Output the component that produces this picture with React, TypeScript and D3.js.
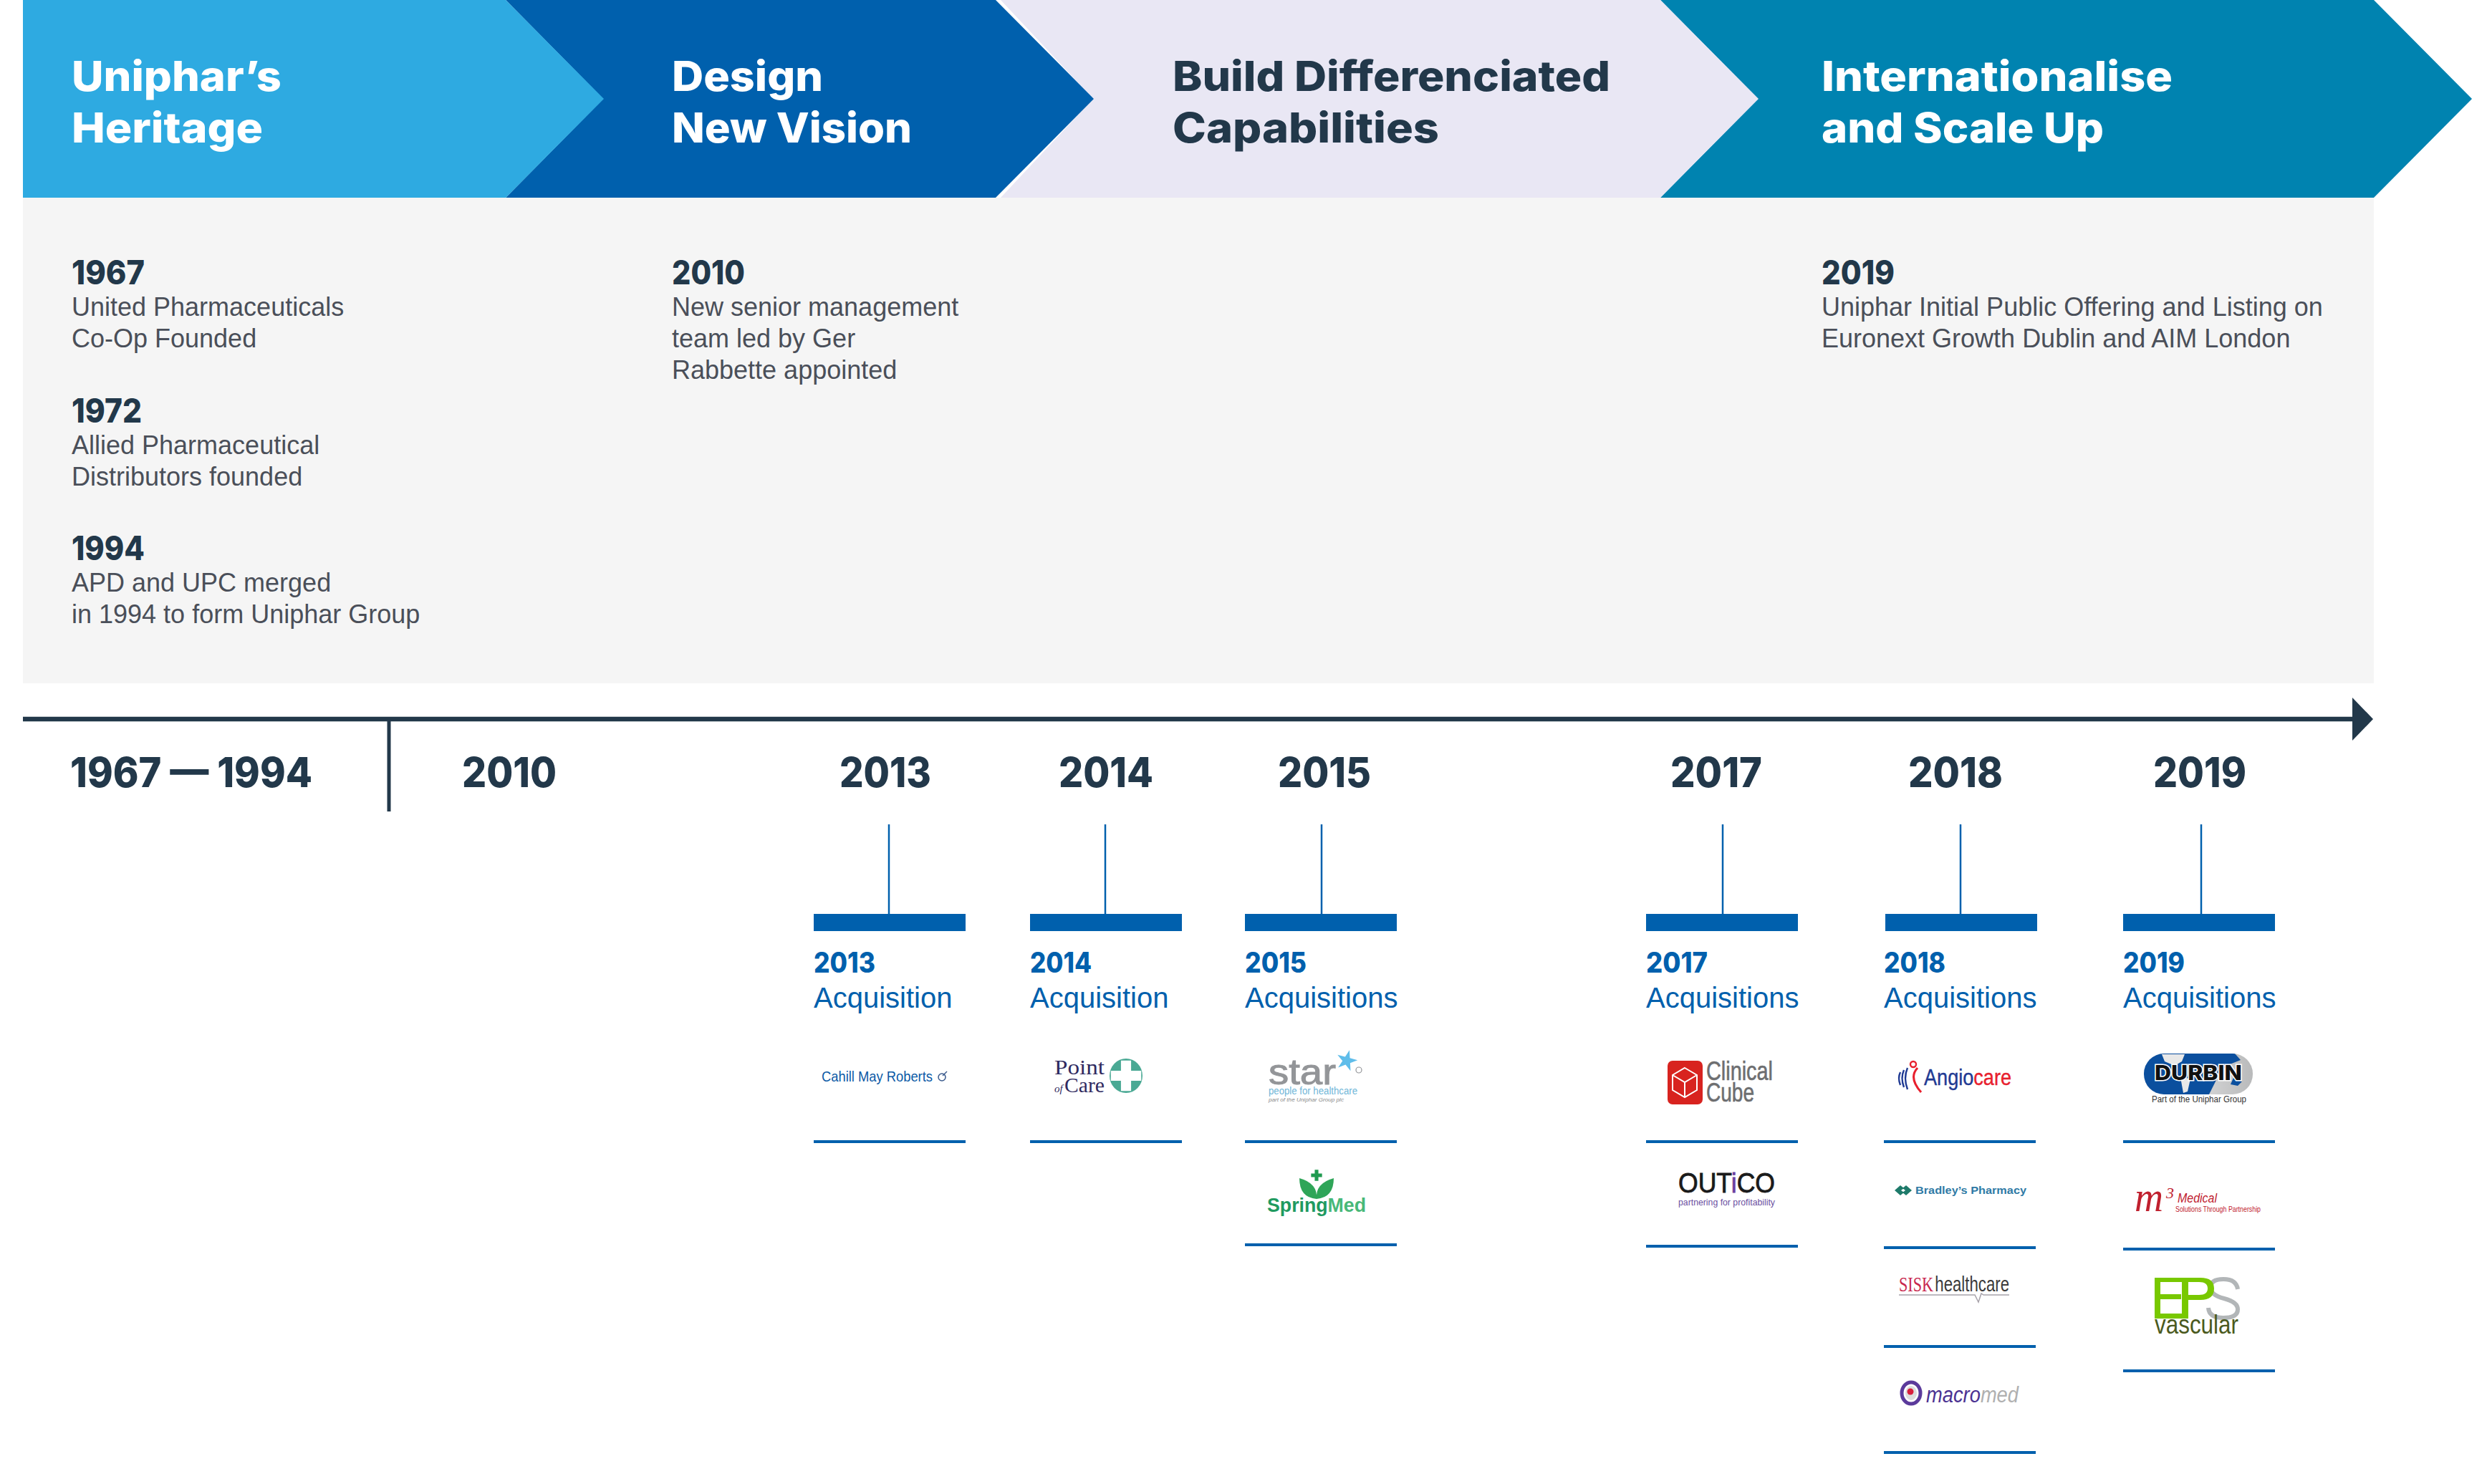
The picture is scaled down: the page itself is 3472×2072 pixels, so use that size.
import React from "react";
import * as d3 from "d3";

// chart content
const phaseTitles = [
  ["Uniphar’s", "Heritage"],
  ["Design", "New Vision"],
  ["Build Differenciated", "Capabilities"],
  ["Internationalise", "and Scale Up"],
];
const heritageYears = ["1967", "1972", "1994"];
const heritageNotes = [
  ["United Pharmaceuticals", "Co-Op Founded"],
  ["Allied Pharmaceutical", "Distributors founded"],
  ["APD and UPC merged", "in 1994 to form Uniphar Group"],
];
const visionYears = ["2010"];
const visionNotes = [["New senior management", "team led by Ger", "Rabbette appointed"]];
const scaleYears = ["2019"];
const scaleNotes = [["Uniphar Initial Public Offering and Listing on", "Euronext Growth Dublin and AIM London"]];
const timelineLabels = ["1967 — 1994", "2010", "2013", "2014", "2015", "2017", "2018", "2019"];
const acquisitionYears = ["2013", "2014", "2015", "2017", "2018", "2019"];
const acquisitionWords = ["Acquisition", "Acquisition", "Acquisitions", "Acquisitions", "Acquisitions", "Acquisitions"];
const acquisitionLogos = [
  ["cahill"],
  ["pointOfCare"],
  ["star", "springMed"],
  ["clinicalCube", "outico"],
  ["angiocare", "bradleys", "sisk", "macromed"],
  ["durbin", "m3", "eps"],
];

// layout
const W = 3472;
const H = 2072;
const DARK = "#22384a";
const BLUE = "#0060ad";
const BODY = "#4a4f59";
const HEAD = "Inter, Lato, sans-serif";
const SANS = "'Liberation Sans', Arial, sans-serif";
const SERIF = "'Liberation Serif', serif";

const phaseFill = d3.scaleOrdinal<number, string>().domain([0, 1, 2, 3]).range(["#2eaae1", "#0060ad", "#e9e7f4", "#0083b0"]);
const phaseInk = d3.scaleOrdinal<number, string>().domain([0, 1, 2, 3]).range(["#fff", "#fff", DARK, "#fff"]);
const phaseShoulder = d3.scaleOrdinal<number, number>().domain([0, 1, 2, 3]).range([706, 1390, 2318, 3314]);
const phaseTextX = d3.scaleOrdinal<number, number>().domain([0, 1, 2, 3]).range([100, 938, 1637, 2543]);
const phaseTextW = [[293, 267], [211, 335], [611, 372], [490, 394]];

const labelX = d3.scaleOrdinal<string, number>().domain(timelineLabels).range([98, 645, 1172, 1478, 1784, 2332, 2664, 3006]);
const labelW = d3.scaleOrdinal<string, number>().domain(timelineLabels).range([338, 132, 128, 132, 130, 128, 132, 130]);
const blockX = d3.scaleOrdinal<string, number>().domain(acquisitionYears).range([1136, 1438, 1738, 2298, 2632, 2964]);
const stemX = d3.scaleOrdinal<string, number>().domain(acquisitionYears).range([1241, 1543, 1845, 2405, 2737, 3073]);
const ruleX = d3.scaleOrdinal<string, number>().domain(acquisitionYears).range([1136, 1438, 1738, 2298, 2630, 2964]);
const ruleYs = [[1592], [1592], [1592, 1736], [1592, 1738], [1592, 1740, 1878, 2026], [1592, 1742, 1912]];

const poly = d3.line().curve(d3.curveLinearClosed);

const T = ({ x, y, s, c, w, f = SANS, wt = 400, it = false, a = "start", ...rest }: any) => (
  <text
    x={x}
    y={y}
    fontSize={s}
    fill={c}
    fontFamily={f}
    fontWeight={wt}
    fontStyle={it ? "italic" : "normal"}
    textAnchor={a}
    textLength={w}
    lengthAdjust={w ? "spacingAndGlyphs" : undefined}
    {...rest}
  >
    {rest.children}
  </text>
);

const star = d3.symbol().type(d3.symbolStar);
const cross = d3.symbol().type(d3.symbolCross);

// company logos, drawn from text and simple shapes
const logos: Record<string, () => React.ReactNode> = {
  cahill: () => (
    <g>
      <T x={1147} y={1510} s={21} c="#0b5aa6" w={155}>Cahill May Roberts</T>
      <circle cx={1315} cy={1504} r={5} fill="none" stroke="#3a5a8c" strokeWidth={1.5} />
      <line x1={1316} y1={1502} x2={1322} y2={1496} stroke="#3a5a8c" strokeWidth={1.5} />
    </g>
  ),
  pointOfCare: () => (
    <g>
      <T x={1472} y={1500} s={30} c="#2f2a60" f={SERIF} w={70}>Point</T>
      <T x={1472} y={1525} s={15} c="#2f2a60" f={SERIF} it>of</T>
      <T x={1486} y={1525} s={30} c="#2f2a60" f={SERIF} w={56}>Care</T>
      <ellipse cx={1572} cy={1502} rx={23} ry={24} fill="#4aa994" />
      <path d={cross.size(1000)() as string} transform="translate(1572,1502)" fill="#fff" />
    </g>
  ),
  star: () => (
    <g>
      <T x={1771} y={1514} s={50} c="#939598" w={94} stroke="#939598" strokeWidth={1}>star</T>
      <T x={1771} y={1528} s={14} c="#6fb6d8" w={124}>people for healthcare</T>
      <T x={1771} y={1538} s={8} c="#8a8a8a" w={105} it>part of the Uniphar Group plc</T>
      <path d={star.size(260)() as string} transform="translate(1880,1481) rotate(15)" fill="#5fbdea" />
      <circle cx={1897} cy={1494} r={4} fill="none" stroke="#939598" strokeWidth={1.2} />
    </g>
  ),
  springMed: () => (
    <g>
      <path d={cross.size(130)() as string} transform="translate(1838,1641)" fill="#1f9a4f" />
      <path d="M1814,1645 Q1814,1672 1838,1674 Q1840,1652 1814,1645Z" fill="#2fa558" />
      <path d="M1862,1645 Q1862,1672 1838,1674 Q1836,1652 1862,1645Z" fill="#2fa558" />
      <T x={1769} y={1692} s={28} c="#1f9a60" wt={700} f={SANS} w={138}>
        Spring<tspan fill="#48b878">Med</tspan>
      </T>
    </g>
  ),
  clinicalCube: () => (
    <g>
      <rect x={2328} y={1481} width={49} height={61} rx={7} fill="#d8231f" />
      <path d="M2352,1491 L2369,1501 V1522 L2352,1532 L2335,1522 V1501Z M2335,1501 L2352,1511 L2369,1501 M2352,1511 V1532" fill="none" stroke="#fff" strokeWidth={2} />
      <T x={2382} y={1508} s={36} c="#6d6e70" w={93} stroke="#6d6e70" strokeWidth={0.6}>Clinical</T>
      <T x={2382} y={1538} s={36} c="#6d6e70" w={67} stroke="#6d6e70" strokeWidth={0.6}>Cube</T>
    </g>
  ),
  outico: () => (
    <g>
      <T x={2343} y={1665} s={38} c="#1a1a1a" w={135} stroke="#1a1a1a" strokeWidth={0.8}>
        OUT<tspan fill="#6b3fa0" stroke="#6b3fa0">i</tspan>CO
      </T>
      <T x={2343} y={1683} s={12} c="#6b4fa0" w={135}>partnering for profitability</T>
    </g>
  ),
  angiocare: () => (
    <g>
      <path d="M2653,1497 Q2649,1505 2653,1515 M2658,1494 Q2653,1505 2658,1518 M2663,1491 Q2657,1505 2663,1521" fill="none" stroke="#1f3a93" strokeWidth={2.4} />
      <circle cx={2671} cy={1486} r={4} fill="none" stroke="#e8202e" strokeWidth={2.4} />
      <path d="M2677,1491 Q2664,1505 2682,1525" fill="none" stroke="#e8202e" strokeWidth={3} />
      <T x={2686} y={1515} s={31} c="#1f3a93" w={122} stroke="#1f3a93" strokeWidth={0.4}>
        Angio<tspan fill="#e8202e" stroke="#e8202e">care</tspan>
      </T>
    </g>
  ),
  bradleys: () => (
    <g>
      <path d="M2645,1662 L2653,1655 L2658,1659 L2654,1662 L2658,1665 L2653,1669Z" fill="#1e7a6a" />
      <path d="M2669,1662 L2661,1655 L2656,1659 L2660,1662 L2656,1665 L2661,1669Z" fill="#1e7a6a" />
      <T x={2674} y={1667} s={15} c="#2f7aa5" wt={700} w={155}>Bradley’s Pharmacy</T>
    </g>
  ),
  sisk: () => (
    <g>
      <T x={2651} y={1803} s={30} c="#c8284f" f={SERIF} w={154}>
        SISK<tspan dx={3} fill="#3b3b3b" fontFamily={SANS}>healthcare</tspan>
      </T>
      <path d="M2651,1808 H2757 L2762,1818 L2766,1806 L2769,1808 H2805" fill="none" stroke="#a7a2aa" strokeWidth={1.5} />
    </g>
  ),
  macromed: () => (
    <g>
      <ellipse cx={2668} cy={1945} rx={13} ry={15} fill="none" stroke="#5b3a9b" strokeWidth={5} />
      <ellipse cx={2668} cy={1945} rx={8} ry={10} fill="#ddd" />
      <circle cx={2667} cy={1943} r={4.5} fill="#d81e3c" />
      <T x={2689} y={1958} s={31} c="#4b3292" it w={129}>
        macro<tspan fill="#b0b0b0">med</tspan>
      </T>
    </g>
  ),
  durbin: () => (
    <g>
      <defs>
        <clipPath id="pill"><rect x={2993} y={1471} width={152} height={57} rx={28} /></clipPath>
        <linearGradient id="pillGrey" x1="0" x2="1" y1="0" y2="0">
          <stop offset="0" stopColor="#f4f4f4" />
          <stop offset="1" stopColor="#b9babb" />
        </linearGradient>
      </defs>
      <g clipPath="url(#pill)">
        <rect x={2993} y={1471} width={152} height={57} fill="url(#pillGrey)" />
        <rect x={2993} y={1471} width={76} height={57} fill="#0b4f9e" />
        <path d="M3018,1472 L3050,1472 L3046,1482 L3036,1488 L3022,1482Z M3044,1504 L3058,1506 L3054,1524 L3048,1526Z" fill="#e8e8e8" />
        <path d="M3069,1471 L3120,1471 L3128,1480 L3108,1488 L3094,1508 L3084,1528 L3069,1528Z M3118,1505 L3130,1510 L3124,1516 L3114,1514Z" fill="#0b4f9e" />
      </g>
      <T x={3008} y={1508} s={29} c="#111" wt={800} f={HEAD} w={122} stroke="#fff" strokeWidth={3} paintOrder="stroke">DURBIN</T>
      <T x={3004} y={1539} s={12} c="#333" w={132}>Part of the Uniphar Group</T>
    </g>
  ),
  m3: () => (
    <g>
      <T x={2980} y={1691} s={60} c="#c0202e" f={SERIF} it w={40}>m</T>
      <T x={3024} y={1673} s={22} c="#c0202e" f={SERIF} it>3</T>
      <T x={3040} y={1679} s={18} c="#c0202e" it w={55}>Medical</T>
      <T x={3037} y={1692} s={11} c="#c0202e" w={119}>Solutions Through Partnership</T>
    </g>
  ),
  eps: () => (
    <g>
      <path d="M3124,1800 Q3122,1786 3104,1786 Q3086,1786 3086,1798 Q3086,1808 3105,1813 Q3124,1818 3124,1828 Q3124,1840 3104,1840 Q3084,1840 3083,1826" fill="none" stroke="#b2b6b8" strokeWidth={6} />
      <path d="M3008,1784 H3055 V1790 H3016 V1807 H3045 V1814 H3016 V1834 H3055 V1841 H3008Z" fill="#78c800" />
      <path d="M3046,1784 H3072 Q3091,1784 3091,1799 Q3091,1815 3072,1815 H3055 V1841 H3046Z M3055,1790 V1808 H3070 Q3082,1808 3082,1799 Q3082,1790 3070,1790Z" fill="#78c800" fillRule="evenodd" />
      <T x={3008} y={1862} s={36} c="#4b5a20" w={117}>vascular</T>
    </g>
  ),
};

const HistoryColumn = ({ x, top, years, notes }: any) => {
  const blocks: React.ReactNode[] = [];
  years.forEach((year: string, i: number) => {
    const y = top[i];
    blocks.push(
      <T key={year} x={x} y={y} s={46} c={DARK} f={HEAD} wt={800} w={i === 1 ? 98 : 102}>{year}</T>
    );
    notes[i].forEach((line: string, j: number) =>
      blocks.push(<T key={year + j} x={x} y={y + 44 + j * 44} s={36} c={BODY}>{line}</T>)
    );
  });
  return <g>{blocks}</g>;
};

export default function App() {
  return (
    <svg width={W} height={H} viewBox={`0 0 ${W} ${H}`} style={{ position: "absolute", left: 0, top: 0, background: "#fff" }}>
      <rect x={32} y={276} width={3282} height={678} fill="#f5f5f5" />

      {/* phase banner, drawn back to front so each tip overlaps the next */}
      {d3.range(3, -1, -1).map((i) => {
        const sh = phaseShoulder(i);
        const left = i === 0 ? 32 : phaseShoulder(i - 1) + (i === 2 ? 7 : 0);
        const notch = i === 0 ? 32 : phaseShoulder(i - 1) + 136;
        return (
          <path
            key={i}
            d={poly([[left, 0], [sh, 0], [sh + 137, 138], [sh, 276], [left, 276], [notch, 138]]) as string}
            fill={phaseFill(i)}
          />
        );
      })}
      {phaseTitles.map((lines, i) =>
        lines.map((line, j) => (
          <T key={line} x={phaseTextX(i)} y={127 + j * 72} s={58} c={phaseInk(i)} f={HEAD} wt={800} w={phaseTextW[i][j]}>{line}</T>
        ))
      )}

      <HistoryColumn x={100} top={[397, 590, 782]} years={heritageYears} notes={heritageNotes} />
      <HistoryColumn x={938} top={[397]} years={visionYears} notes={visionNotes} />
      <HistoryColumn x={2543} top={[397]} years={scaleYears} notes={scaleNotes} />

      {/* timeline axis */}
      <line x1={32} x2={3290} y1={1004} y2={1004} stroke={DARK} strokeWidth={6.5} />
      <path d={poly([[3284, 974], [3313, 1004], [3284, 1034]]) as string} fill={DARK} />
      <line x1={543} x2={543} y1={1004} y2={1133} stroke={DARK} strokeWidth={5} />
      {timelineLabels.map((label) => (
        <T key={label} x={labelX(label)} y={1099} s={58} c={DARK} f={HEAD} wt={800} w={labelW(label)}>{label}</T>
      ))}

      {/* acquisition columns */}
      {acquisitionYears.map((year, i) => (
        <g key={year}>
          <line x1={stemX(year)} x2={stemX(year)} y1={1151} y2={1276} stroke={BLUE} strokeWidth={2.5} />
          <rect x={blockX(year)} y={1276} width={212} height={24} fill={BLUE} />
          <T x={ruleX(year)} y={1358} s={39} c={BLUE} f={HEAD} wt={800} w={86}>{year}</T>
          <T x={ruleX(year)} y={1407} s={40} c={BLUE}>{acquisitionWords[i]}</T>
          {ruleYs[i].map((y) => (
            <rect key={y} x={ruleX(year)} y={y} width={212} height={4} fill={BLUE} />
          ))}
          {acquisitionLogos[i].map((name) => (
            <React.Fragment key={name}>{logos[name]()}</React.Fragment>
          ))}
        </g>
      ))}
    </svg>
  );
}
